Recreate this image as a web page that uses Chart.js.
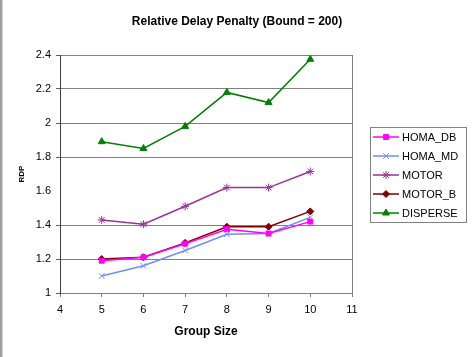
<!DOCTYPE html>
<html><head><meta charset="utf-8">
<script src="https://cdn.jsdelivr.net/npm/chart.js@4/dist/chart.umd.min.js"></script>
<style>html,body{margin:0;padding:0;background:#fff}#wrap{width:474px;height:357px;position:relative}</style>
</head><body><div id="wrap"><canvas id="c" width="474" height="357"></canvas></div>
<script>
const groupSizes = [5, 6, 7, 8, 9, 10];
const seriesNames = ['HOMA_DB', 'HOMA_MD', 'MOTOR', 'MOTOR_B', 'DISPERSE'];
const homaDB   = [1.19, 1.21, 1.29, 1.375, 1.35, 1.42];
const homaMD   = [1.10, 1.16, 1.25, 1.345, 1.35, 1.445];
const motor    = [1.43, 1.405, 1.51, 1.62, 1.62, 1.715];
const motorB   = [1.20, 1.21, 1.295, 1.39, 1.39, 1.48];
const disperse = [1.89, 1.85, 1.98, 2.18, 2.12, 2.375];
const yTicks = [1, 1.2, 1.4, 1.6, 1.8, 2, 2.2, 2.4];
const xTicks = [4, 5, 6, 7, 8, 9, 10, 11];

const FONT = 'Liberation Sans, Arial, sans-serif';
const styles = [
  {color:'#ff00ff', pointStyle:'rect', radius:3.5, fill:'#ff00ff'},
  {color:'#6f8fef', pointStyle:'crossRot', radius:4, fill:'#6f8fef'},
  {color:'#993399', pointStyle:'star', radius:4, fill:'#993399'},
  {color:'#800000', pointStyle:'rectRot', radius:3.5, fill:'#800000'},
  {color:'#008000', pointStyle:'triangle', radius:4, fill:'#008000'}
];
const allSeries = [homaDB, homaMD, motor, motorB, disperse];
const datasets = allSeries.map((vals, i) => ({
  label: seriesNames[i],
  data: groupSizes.map((g, j) => ({x: g, y: vals[j]})),
  borderColor: styles[i].color,
  backgroundColor: styles[i].fill,
  pointStyle: styles[i].pointStyle,
  pointRadius: styles[i].radius,
  pointBorderWidth: 1,
  pointBorderColor: styles[i].color,
  pointBackgroundColor: styles[i].fill,
  borderWidth: 1.5,
  tension: 0
}));

const chromePlugin = {
  id: 'chrome',
  beforeDraw(chart) {
    const ctx = chart.ctx;
    ctx.save();
    ctx.fillStyle = '#a0a0a0';
    ctx.fillRect(0, 0, 2.5, chart.height);
    ctx.restore();
  },
  afterDraw(chart) {
    const ctx = chart.ctx;
    ctx.save();
    const bx = 370.5, by = 127.5, bw = 96, bh = 95;
    ctx.strokeStyle = '#808080';
    ctx.lineWidth = 1;
    ctx.strokeRect(bx, by, bw, bh);
    chart.data.datasets.forEach((ds, i) => {
      const y = 137 + i * 19;
      ctx.strokeStyle = ds.borderColor;
      ctx.lineWidth = 1.5;
      ctx.beginPath();
      ctx.moveTo(373, y); ctx.lineTo(399, y); ctx.stroke();
      ctx.fillStyle = ds.pointBackgroundColor;
      ctx.strokeStyle = ds.pointBorderColor;
      ctx.lineWidth = 1;
      Chart.helpers.drawPoint(ctx, {pointStyle: ds.pointStyle, radius: ds.pointRadius, borderWidth: 1}, 386, y);
      ctx.fillStyle = '#000';
      ctx.font = '11px ' + FONT;
      ctx.textBaseline = 'middle';
      ctx.textAlign = 'left';
      ctx.fillText(ds.label, 402, y + 0.5);
    });
    ctx.restore();
  }
};

new Chart(document.getElementById('c'), {
  type: 'line',
  data: {datasets},
  options: {
    responsive: false,
    animation: false,
    layout: {padding: 0},
    plugins: {
      legend: {display: false},
      tooltip: {enabled: false},
      title: {
        display: true,
        text: 'Relative Delay Penalty (Bound = 200)',
        color: '#000',
        font: {family: FONT, size: 12, weight: 'bold'},
        padding: {top: 14, bottom: 26.6}
      }
    },
    scales: {
      x: {
        type: 'linear',
        min: 4, max: 11,
        afterBuildTicks(s) { s.ticks = xTicks.map(v => ({value: v})); },
        afterFit(s) { s.height = 64; },
        ticks: {color: '#000', font: {family: FONT, size: 11}, padding: 6, callback: v => String(v)},
        grid: {
          drawOnChartArea: true,
          color: ctx => (ctx.tick && ctx.tick.value === 11) ? '#808080' : 'rgba(0,0,0,0)',
          tickColor: '#808080',
          tickLength: 4,
          lineWidth: 1
        },
        border: {color: '#808080', width: 1},
        title: {display: true, text: 'Group Size', color: '#000', font: {family: FONT, size: 12, weight: 'bold'}, padding: {top: 4, bottom: 17.8}}
      },
      y: {
        min: 1, max: 2.4,
        afterBuildTicks(s) { s.ticks = yTicks.map(v => ({value: v})); },
        afterFit(s) { s.width = 60; },
        ticks: {color: '#000', font: {family: FONT, size: 11}, padding: 5, callback: v => String(Math.round(v * 10) / 10)},
        grid: {
          color: ctx => (ctx.tick && Math.abs(ctx.tick.value - 1.6) < 1e-6) ? 'rgba(0,0,0,0)' : '#808080',
          tickColor: ctx => (ctx.tick && Math.abs(ctx.tick.value - 1.6) < 1e-6) ? 'rgba(0,0,0,0)' : '#606060',
          tickLength: 4,
          lineWidth: 1
        },
        border: {color: '#404040', width: 1},
        title: {display: true, text: 'RDP', color: '#000', font: {family: FONT, size: 8, weight: 'bold'}, padding: {top: 17, bottom: 0}}
      },
      yRight: {
        position: 'right',
        min: 1, max: 2.4,
        afterFit(s) { s.width = 122; },
        ticks: {display: false},
        grid: {display: false, drawTicks: false},
        border: {display: false}
      }
    }
  },
  plugins: [chromePlugin]
});
</script></body></html>
